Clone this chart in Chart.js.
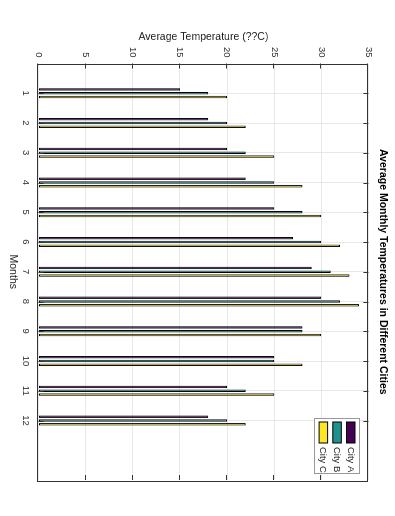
<!DOCTYPE html>
<html>
<head>
<meta charset="utf-8">
<script src="https://cdn.jsdelivr.net/npm/chart.js@4.4.0/dist/chart.umd.min.js"></script>
<style>
  html, body { margin: 0; padding: 0; background: #fff; overflow: hidden; }
  /* chart is drawn upright, then turned a quarter clockwise like the reference */
  #wrap { position: absolute; left: 0; top: 0; width: 516px; height: 395px;
          transform-origin: 0 0; transform: translate(395px, 0) rotate(90deg); }
</style>
</head>
<body>
<div id="wrap"><canvas id="canvas1" width="516" height="395" style="width:516px;height:395px"></canvas></div>
<script>
var months = [1, 2, 3, 4, 5, 6, 7, 8, 9, 10, 11, 12];
var cityA = [15, 18, 20, 22, 25, 27, 29, 30, 28, 25, 20, 18];
var cityB = [18, 20, 22, 25, 28, 30, 31, 32, 28, 25, 22, 20];
var cityC = [20, 22, 25, 28, 30, 32, 33, 34, 30, 28, 25, 22];
var cityNames = ['City A', 'City B', 'City C'];
var cityColors = ['#440154', '#21918c', '#fde725'];
var tempTicks = [0, 5, 10, 15, 20, 25, 30, 35];

var font = '"Liberation Sans", Arial, sans-serif';

function points(vals) {
  return months.map(function(m, i) { return {x: m, y: vals[i]}; });
}

// frame, inward ticks and the boxed legend
var frame = {
  id: 'frame',
  afterDraw: function(chart) {
    var ctx = chart.ctx, a = chart.chartArea;
    var sx = chart.scales.x, sy = chart.scales.y;
    ctx.save();
    ctx.strokeStyle = '#333';
    ctx.lineWidth = 1;
    ctx.beginPath();
    sx.ticks.forEach(function(t) {
      var p = Math.round(sx.getPixelForValue(t.value)) + 0.5;
      ctx.moveTo(p, a.top); ctx.lineTo(p, a.top + 5);
      ctx.moveTo(p, a.bottom); ctx.lineTo(p, a.bottom - 5);
    });
    sy.ticks.forEach(function(t) {
      var p = Math.round(sy.getPixelForValue(t.value)) + 0.5;
      ctx.moveTo(a.left, p); ctx.lineTo(a.left + 5, p);
      ctx.moveTo(a.right, p); ctx.lineTo(a.right - 5, p);
    });
    ctx.stroke();
    ctx.strokeRect(Math.round(a.left) + 0.5, Math.round(a.top) + 0.5,
                   Math.round(a.right - a.left), Math.round(a.bottom - a.top));

    var lx = Math.round(a.right - 62), ly = Math.round(a.top + 8);
    ctx.fillStyle = '#fff';
    ctx.fillRect(lx, ly, 55, 45);
    ctx.strokeStyle = '#999';
    ctx.strokeRect(lx + 0.5, ly + 0.5, 55, 45);
    chart.data.datasets.forEach(function(ds, i) {
      var cy = ly + 9 + i * 13.7;
      ctx.fillStyle = ds.backgroundColor;
      ctx.fillRect(lx + 4, cy - 4, 21, 8.5);
      ctx.strokeStyle = '#000';
      ctx.strokeRect(lx + 4, cy - 4, 21, 8.5);
      ctx.fillStyle = '#222';
      ctx.font = '9.5px ' + font;
      ctx.textBaseline = 'middle';
      ctx.fillText(ds.label, lx + 29, cy + 0.5);
    });
    ctx.restore();
  }
};

new Chart(document.getElementById('canvas1'), {
  type: 'bar',
  data: {
    datasets: [
      {label: cityNames[0], data: points(cityA), backgroundColor: cityColors[0]},
      {label: cityNames[1], data: points(cityB), backgroundColor: cityColors[1]},
      {label: cityNames[2], data: points(cityC), backgroundColor: cityColors[2]}
    ]
  },
  options: {
    responsive: false,
    animation: false,
    devicePixelRatio: 1,
    layout: {padding: {left: 0, right: 36, top: 0, bottom: 0}},
    datasets: {
      bar: {categoryPercentage: 0.383, barPercentage: 0.65, borderColor: '#000',
            borderWidth: 1, borderSkipped: false}
    },
    plugins: {
      legend: {display: false},
      tooltip: {enabled: false},
      title: {
        display: true,
        fullSize: false,
        text: 'Average Monthly Temperatures in Different Cities',
        color: '#000',
        font: {family: font, size: 10.5, weight: 'bold'},
        padding: {top: 6, bottom: 8}
      }
    },
    scales: {
      x: {
        type: 'linear', min: 0, max: 14, offset: false,
        afterBuildTicks: function(s) { s.ticks = months.map(function(v) { return {value: v}; }); },
        afterFit: function(s) { s.height = 38.5; },
        ticks: {color: '#333', font: {family: font, size: 9.5}, padding: 7, maxRotation: 0, autoSkip: false},
        grid: {color: '#e2e2e2', lineWidth: 0.8, drawTicks: false, offset: false},
        border: {display: false},
        title: {display: true, text: 'Months', color: '#222', font: {family: font, size: 10.5},
                padding: {top: 0, bottom: 7}}
      },
      y: {
        min: 0, max: 35,
        afterBuildTicks: function(s) { s.ticks = tempTicks.map(function(v) { return {value: v}; }); },
        afterFit: function(s) { s.width = 63.5; },
        ticks: {color: '#333', font: {family: font, size: 9.5}, padding: 6},
        grid: {color: '#e2e2e2', lineWidth: 0.8, drawTicks: false},
        border: {display: false},
        title: {display: true, text: 'Average Temperature (??C)', color: '#222',
                font: {family: font, size: 10.5}, padding: {top: 31, bottom: 0}}
      }
    }
  },
  plugins: [frame]
});
</script>
</body>
</html>
